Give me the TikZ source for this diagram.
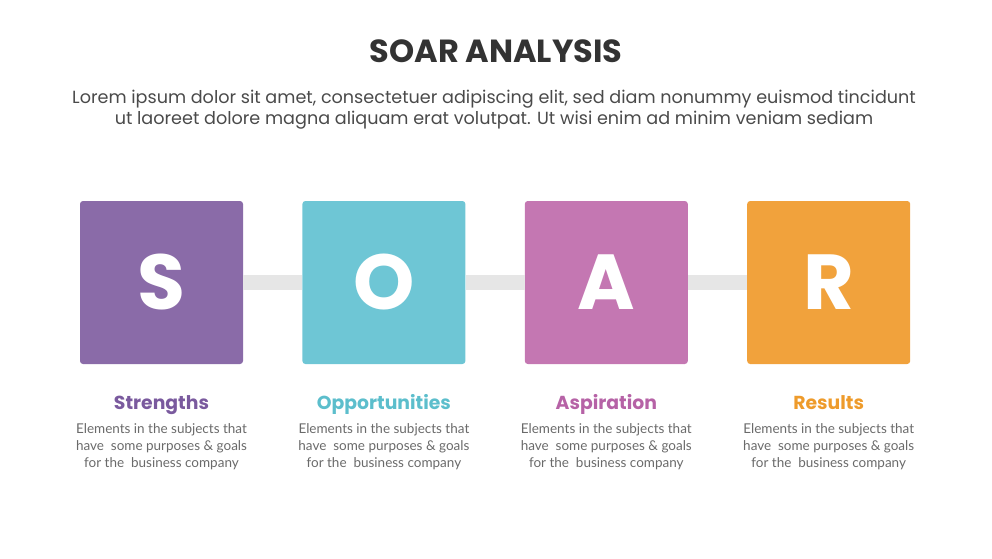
\documentclass[tikz,border=0pt]{standalone}
\usepackage{fontspec}
\setmainfont{Poppins}
\newfontfamily\descfont{Lato}
\usepackage{tikz}
\usetikzlibrary{positioning,calc}
\definecolor{strength}{HTML}{8A6BA8}
\definecolor{opportunity}{HTML}{6EC6D5}
\definecolor{aspiration}{HTML}{C477B2}
\definecolor{result}{HTML}{F1A23C}
\definecolor{strengthtxt}{HTML}{7A5A9E}
\definecolor{opportunitytxt}{HTML}{5CBECC}
\definecolor{aspirationtxt}{HTML}{B662A6}
\definecolor{resulttxt}{HTML}{EE9B2B}
\definecolor{titlegray}{HTML}{333333}
\definecolor{subgray}{HTML}{4A4A4A}
\definecolor{descgray}{HTML}{6A6A6A}
\definecolor{bargray}{HTML}{E6E6E6}

\begin{document}
\begin{tikzpicture}[
    node distance=59pt,
    letterbox/.style={rectangle, minimum size=163pt, inner sep=0pt, rounded corners=3pt, text=white, font=\fontsize{78}{78}\selectfont\bfseries},
    heading/.style={inner sep=0pt, font=\fontsize{18.8}{18.8}\selectfont\bfseries},
    desc/.style={inner sep=0pt, align=center, text=descgray, font=\descfont\fontsize{13.5}{17}\selectfont},
    link/.style={-, line width=15pt, bargray}
]
    \useasboundingbox (0,0) rectangle (992pt,558pt);

    % Title and subtitle
    \node[anchor=base, inner sep=0pt, text=titlegray, font=\fontsize{32}{32}\selectfont\bfseries] (title) at (496pt,495pt) {SOAR ANALYSIS};
    \node[anchor=north, inner sep=0pt, align=center, text=subgray, font=\fontsize{17.6}{21}\selectfont] (sub) at (494pt,468pt)
        {Lorem ipsum dolor sit amet, consectetuer adipiscing elit, sed diam nonummy euismod tincidunt\\
         ut laoreet dolore magna aliquam erat volutpat. Ut wisi enim ad minim veniam sediam};

    % Letter boxes
    \node[letterbox, fill=strength] (s) at (161.5pt,275.5pt) {S};
    \node[letterbox, fill=opportunity, right=of s] (o) {O};
    \node[letterbox, fill=aspiration, right=of o] (a) {A};
    \node[letterbox, fill=result, right=of a] (r) {R};

    % Bars between boxes
    \draw[link] (s.east) -- (o.west);
    \draw[link] (o.east) -- (a.west);
    \draw[link] (a.east) -- (r.west);

    % Headings
    \node[heading, text=strengthtxt, below=45pt of s.south, anchor=base] (sh) {Strengths};
    \node[heading, text=opportunitytxt, below=45pt of o.south, anchor=base] (oh) {Opportunities};
    \node[heading, text=aspirationtxt, below=45pt of a.south, anchor=base] (ah) {Aspiration};
    \node[heading, text=resulttxt, below=45pt of r.south, anchor=base] (rh) {Results};

    % Descriptions
    \foreach \h in {sh,oh,ah,rh}
        \node[desc, below=14pt of \h.base, anchor=north] (\h d) {Elements in the subjects that\\ have\ \ some purposes \& goals\\ for the\ \ business company};

\end{tikzpicture}
\end{document}
